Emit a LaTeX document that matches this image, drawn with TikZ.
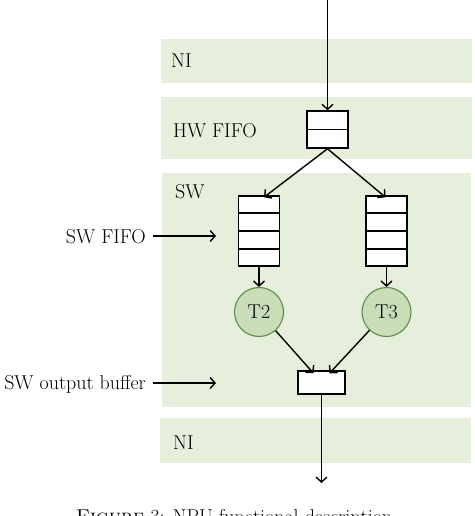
\documentclass[tikz,border=0pt]{standalone}
\usetikzlibrary{arrows.meta,calc}
\definecolor{band}{HTML}{E6EEDC}
\definecolor{tfill}{HTML}{C8DDB8}
\definecolor{tline}{HTML}{5F8A4F}
\begin{document}
\begin{tikzpicture}[x=1pt,y=-1pt,
  arr/.style={line width=1.4pt,-{Straight Barb[length=5pt,width=11pt,line width=1.4pt]}},
  lbl/.style={font=\fontsize{20}{23}\selectfont, inner sep=0pt},
  fifobox/.style={draw, line width=1.5pt, fill=white, minimum width=41pt, inner sep=0pt},
  task/.style={circle, draw=tline, fill=tfill, line width=1.1pt, minimum size=49pt, inner sep=0pt, font=\fontsize{20}{23}\selectfont}]
\useasboundingbox (0,0) rectangle (474,516);
\clip (0,0) rectangle (474,516);
% bands
\fill[band] (161,39) rectangle (472,83);
\fill[band] (161,97) rectangle (472,159);
\fill[band] (162,173) rectangle (471,407);
\fill[band] (160,418) rectangle (471,463);
% band labels
\node[lbl, anchor=base west] (niA) at (171,68) {NI};
\node[lbl, anchor=base west] (hwl) at (173,137) {HW FIFO};
\node[lbl, anchor=base west] (swl) at (175,198) {SW};
\node[lbl, anchor=base west] (niB) at (173,449) {NI};
% HW FIFO
\node[fifobox, minimum height=37pt] (hw) at (327.5,129.5) {};
\draw[line width=1.5pt] (hw.west) -- (hw.east);
% SW FIFOs
\node[fifobox, minimum height=70pt] (L) at (259,231) {};
\node[fifobox, minimum height=70pt] (R) at (386.5,231) {};
\foreach \n in {L,R}{
  \foreach \t in {0.25,0.5,0.75}{
    \draw[line width=1.5pt] ($(\n.north west)!\t!(\n.south west)$) -- ($(\n.north east)!\t!(\n.south east)$);
  }
}
% tasks
\node[task] (T2) at (259,312) {T2};
\node[task] (T3) at (386.5,312) {T3};
% output buffer
\node[fifobox, minimum width=47pt, minimum height=23pt] (ob) at (321.5,382.5) {};
% connectors
\coordinate (in) at (327.5,0);
\coordinate (out) at (321.5,483);
\draw[arr] (in) -- (hw.north);
\draw[arr] (hw.south) -- ([xshift=5pt,yshift=-2pt]L.north);
\draw[arr] (hw.south) -- ([xshift=-1pt,yshift=-2pt]R.north);
\draw[arr] (L.south) -- (T2.north);
\draw[arr] (R.south) -- (T3.north);
\draw[arr] (T2) -- ([xshift=-8pt,yshift=-3pt]ob.north);
\draw[arr] (T3) -- ([xshift=8pt,yshift=-3pt]ob.north);
\draw[arr] (ob.south) -- (out);
% side labels
\node[lbl, anchor=base east] (swf) at (146,243) {SW FIFO};
\node[lbl, anchor=base east] (swo) at (146,389) {SW output buffer};
\coordinate (a1) at (153,236);
\coordinate (a2) at (216,236);
\coordinate (b1) at (153,383);
\coordinate (b2) at (216,383);
\draw[arr] (a1) -- (a2);
\draw[arr] (b1) -- (b2);
% caption (cut off by the lower edge, as in the reference)
\node[lbl, anchor=base] (cap) at (234,523) {\textsc{Figure} 3: NPU functional description};
\end{tikzpicture}
\end{document}
